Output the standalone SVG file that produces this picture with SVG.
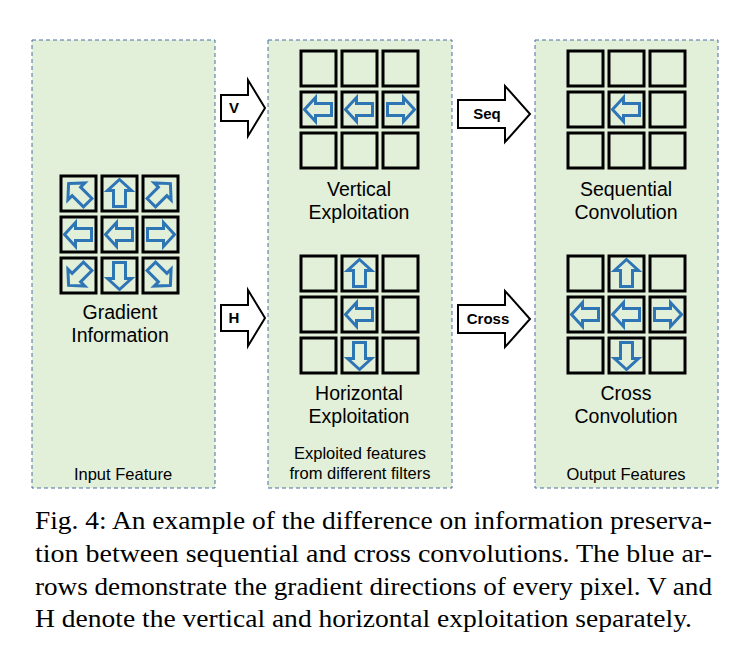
<svg xmlns="http://www.w3.org/2000/svg" xmlns:xlink="http://www.w3.org/1999/xlink" width="736" height="660" viewBox="0 0 736 660">
<style>
.panel{fill:#e2efd9;stroke:#4a6fa5;stroke-width:1;stroke-dasharray:4 3}
.cell{fill:none;stroke:#000;stroke-width:3}
.ba{fill:#e2efd9;stroke:#2e75b6;stroke-width:3;stroke-linejoin:miter}
.big{fill:#fff;stroke:#000;stroke-width:2}
.t{font-family:"Liberation Sans",Arial,sans-serif;font-size:19.5px;text-anchor:middle;fill:#000}
.s{font-family:"Liberation Sans",Arial,sans-serif;font-size:16.5px;text-anchor:middle;fill:#000}
.b{font-family:"Liberation Sans",Arial,sans-serif;font-size:15px;font-weight:bold;text-anchor:middle;fill:#000}
.c{font-family:"Liberation Serif","Times New Roman",serif;font-size:25px;fill:#000}
</style>
<defs>
<path id="a" class="ba" d="M-14,0 L-3,-12 L-3,-6 L13,-6 L13,6 L-3,6 L-3,12 Z"/>
<g id="grid">
<rect class="cell" x="0" y="0" width="35" height="35"/><rect class="cell" x="41" y="0" width="35" height="35"/><rect class="cell" x="82" y="0" width="35" height="35"/>
<rect class="cell" x="0" y="41" width="35" height="35"/><rect class="cell" x="41" y="41" width="35" height="35"/><rect class="cell" x="82" y="41" width="35" height="35"/>
<rect class="cell" x="0" y="82" width="35" height="35"/><rect class="cell" x="41" y="82" width="35" height="35"/><rect class="cell" x="82" y="82" width="35" height="35"/>
</g>
</defs>
<rect width="736" height="660" fill="#fff"/>
<g id="panel-input"><rect class="panel" x="32" y="40" width="183" height="448"/>
<use xlink:href="#grid" x="61" y="176"/>
<use xlink:href="#a" transform="translate(78.5,193.5) rotate(45)"/>
<use xlink:href="#a" transform="translate(119.5,193.5) rotate(90)"/>
<use xlink:href="#a" transform="translate(160.5,193.5) rotate(135)"/>
<use xlink:href="#a" transform="translate(78.5,234.5)"/>
<use xlink:href="#a" transform="translate(119.5,234.5)"/>
<use xlink:href="#a" transform="translate(160.5,234.5) rotate(180)"/>
<use xlink:href="#a" transform="translate(78.5,275.5) rotate(-45)"/>
<use xlink:href="#a" transform="translate(119.5,275.5) rotate(-90)"/>
<use xlink:href="#a" transform="translate(160.5,275.5) rotate(-135)"/>
<text class="t" x="120" y="319">Gradient</text><text class="t" x="120" y="342">Information</text>
<text class="s" x="123" y="480">Input Feature</text></g>
<g id="panel-mid"><rect class="panel" x="268" y="40" width="184" height="448"/>
<use xlink:href="#grid" x="301" y="51"/>
<use xlink:href="#a" transform="translate(318.5,109.5)"/>
<use xlink:href="#a" transform="translate(359.5,109.5)"/>
<use xlink:href="#a" transform="translate(400.5,109.5) rotate(180)"/>
<text class="t" x="359" y="196">Vertical</text><text class="t" x="359" y="219">Exploitation</text>
<use xlink:href="#grid" x="301" y="256"/>
<use xlink:href="#a" transform="translate(359.5,273.5) rotate(90)"/>
<use xlink:href="#a" transform="translate(359.5,314.5)"/>
<use xlink:href="#a" transform="translate(359.5,355.5) rotate(-90)"/>
<text class="t" x="359" y="400">Horizontal</text><text class="t" x="359" y="423">Exploitation</text>
<text class="s" x="360" y="459">Exploited features</text><text class="s" x="360" y="479">from different filters</text></g>
<g id="panel-out"><rect class="panel" x="535" y="40" width="183" height="448"/>
<use xlink:href="#grid" x="568" y="51"/>
<use xlink:href="#a" transform="translate(626.5,109.5)"/>
<text class="t" x="626" y="196">Sequential</text><text class="t" x="626" y="219">Convolution</text>
<use xlink:href="#grid" x="568" y="256"/>
<use xlink:href="#a" transform="translate(626.5,273.5) rotate(90)"/>
<use xlink:href="#a" transform="translate(585.5,314.5)"/>
<use xlink:href="#a" transform="translate(626.5,314.5)"/>
<use xlink:href="#a" transform="translate(667.5,314.5) rotate(180)"/>
<use xlink:href="#a" transform="translate(626.5,355.5) rotate(-90)"/>
<text class="t" x="626" y="400">Cross</text><text class="t" x="626" y="423">Convolution</text>
<text class="s" x="626" y="480">Output Features</text></g>
<g id="connectors">
<path class="big" d="M221,95 H248 V80 L265,108 L248,136 V121 H221 Z"/><text class="b" x="234" y="113">V</text>
<path class="big" d="M221,305 H248 V290 L265,318 L248,346 V331 H221 Z"/><text class="b" x="234" y="323">H</text>
<path class="big" d="M458,100 H505 V86 L530,114 L505,142 V128 H458 Z"/><text class="b" x="487" y="119">Seq</text>
<path class="big" d="M458,305 H505 V291 L530,319 L505,347 V333 H458 Z"/><text class="b" x="488" y="324">Cross</text>
</g>
<g id="caption">
<text class="c" x="35" y="529" textLength="677" lengthAdjust="spacingAndGlyphs">Fig. 4: An example of the difference on information preserva-</text>
<text class="c" x="35" y="562" textLength="677" lengthAdjust="spacingAndGlyphs">tion between sequential and cross convolutions. The blue ar-</text>
<text class="c" x="35" y="595" textLength="677" lengthAdjust="spacingAndGlyphs">rows demonstrate the gradient directions of every pixel. V and</text>
<text class="c" x="35" y="627" textLength="657" lengthAdjust="spacingAndGlyphs">H denote the vertical and horizontal exploitation separately.</text>
</g>
</svg>
